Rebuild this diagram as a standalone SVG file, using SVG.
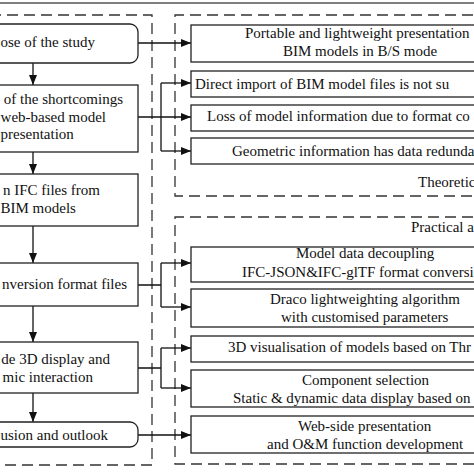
<svg xmlns="http://www.w3.org/2000/svg" width="474" height="474" viewBox="0 0 474 474">
<style>
.bg{fill:#ffffff}
.box{fill:#ffffff;stroke:#222;stroke-width:1.3}
.dash{fill:none;stroke:#333;stroke-width:1.3;stroke-dasharray:11 6}
.con{fill:none;stroke:#111;stroke-width:1.3}
.arr{marker-end:url(#ah)}
text{font-family:"Liberation Serif","Times New Roman",serif;font-size:15px;fill:#111}
.e{text-anchor:end}
</style>
<defs>
<marker id="ah" markerUnits="userSpaceOnUse" markerWidth="11" markerHeight="9" refX="10" refY="4" orient="auto">
<path d="M0,0 L10,4 L0,8 z" fill="#111"/>
</marker>
</defs>
<rect class="bg" x="0" y="0" width="474" height="474"/>
<line x1="0" y1="3" x2="474" y2="3" stroke="#555" stroke-width="1.5"/>
<g id="frames">
<path class="dash" d="M-10,15 H152 V465 H-10"/>
<path class="dash" d="M490,15 H175 V196 H490"/>
<path class="dash" d="M490,217 H175 V464 H490"/>
<text x="418" y="187">Theoretic</text>
<text x="411" y="232">Practical a</text>
</g>
<g id="connectors">
<path class="con arr" d="M33,63 V85"/>
<path class="con arr" d="M33,152 V174"/>
<path class="con arr" d="M33,226 V263"/>
<path class="con arr" d="M33,306 V342"/>
<path class="con arr" d="M33,393 V422"/>
<path class="con arr" d="M138,43 H191"/>
<path class="con arr" d="M138,117 H191"/>
<path class="con" d="M161,83 V151"/>
<path class="con arr" d="M161,83 H191"/>
<path class="con arr" d="M161,151 H191"/>
<path class="con" d="M138,285 H161 M161,263 V307"/>
<path class="con arr" d="M161,263 H191"/>
<path class="con arr" d="M161,307 H191"/>
<path class="con" d="M138,368 H161 M161,348 V388"/>
<path class="con arr" d="M161,348 H191"/>
<path class="con arr" d="M161,388 H191"/>
<path class="con arr" d="M138,435 H191"/>
</g>
<g id="L1"><rect class="box" x="-20" y="24" width="158" height="39" rx="8"/><text class="e" x="95" y="47">ose of the study</text></g>
<g id="L2"><rect class="box" x="-20" y="85" width="158" height="67"/><text class="e" x="123" y="104">of the shortcomings</text><text class="e" x="106" y="122">web-based model</text><text x="0.5" y="139">presentation</text></g>
<g id="L3"><rect class="box" x="-20" y="174" width="158" height="52"/><text class="e" x="100" y="195">n IFC files from</text><text x="0.5" y="213">BIM models</text></g>
<g id="L4"><rect class="box" x="-20" y="263" width="158" height="43"/><text class="e" x="127" y="289">nversion format files</text></g>
<g id="L5"><rect class="box" x="-20" y="342" width="158" height="51"/><text class="e" x="110" y="364">de 3D display and</text><text class="e" x="93" y="382">mic interaction</text></g>
<g id="L6"><rect class="box" x="-20" y="422" width="158" height="25" rx="8"/><text x="0.5" y="440">usion and outlook</text></g>
<g id="R1"><rect class="box" x="191" y="25" width="300" height="37"/><text x="245" y="38">Portable and lightweight presentation</text><text x="283" y="56">BIM models in B/S mode</text></g>
<g id="R2"><rect class="box" x="191" y="71" width="300" height="26"/><text x="195" y="89">Direct import of BIM model files is not su</text></g>
<g id="R3"><rect class="box" x="191" y="105" width="300" height="26"/><text x="207" y="121">Loss of model information due to format co</text></g>
<g id="R4"><rect class="box" x="191" y="138" width="300" height="26"/><text x="232" y="156">Geometric information has data redunda</text></g>
<g id="R5"><rect class="box" x="191" y="247" width="300" height="35"/><text x="296" y="258">Model data decoupling</text><text x="242" y="277">IFC-JSON&amp;IFC-glTF format conversi</text></g>
<g id="R6"><rect class="box" x="191" y="289" width="300" height="38"/><text x="270" y="304">Draco lightweighting algorithm</text><text x="281" y="322">with customised parameters</text></g>
<g id="R7"><rect class="box" x="191" y="336" width="300" height="26"/><text x="228" y="352">3D visualisation of models based on Thr</text></g>
<g id="R8"><rect class="box" x="191" y="370" width="300" height="37"/><text x="302" y="385">Component selection</text><text x="233" y="403">Static &amp; dynamic data display based on</text></g>
<g id="R9"><rect class="box" x="191" y="416" width="300" height="37"/><text x="298" y="431">Web-side presentation</text><text x="267" y="449">and O&amp;M function development</text></g>
</svg>
